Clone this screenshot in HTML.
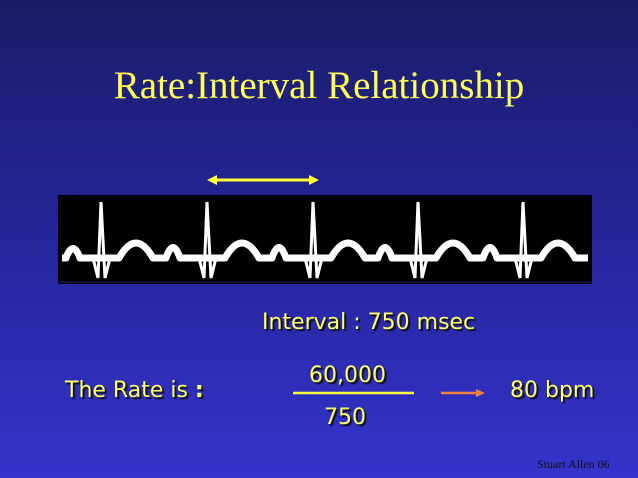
<!DOCTYPE html>
<html><head><meta charset="utf-8"><style>
html,body{margin:0;padding:0}
body{width:638px;height:478px;overflow:hidden;position:relative;background:linear-gradient(#1b1c68,#2626a0 55%,#3434cc);font-family:"DejaVu Sans","Liberation Sans",sans-serif}
.t{position:absolute;color:#ffff66;text-shadow:2px 2px 1px #111;white-space:nowrap;font-size:22px;line-height:1}
</style></head><body>
<div class="t" style="left:0;width:638px;text-align:center;top:66px;font-family:'Liberation Serif',serif;font-size:39px;text-shadow:none;color:#ffff55">Rate:Interval Relationship</div>
<svg width="638" height="478" style="position:absolute;left:0;top:0">
<g id="arrow">
<line x1="214" y1="180" x2="312" y2="180" stroke="#ffff33" stroke-width="3"/>
<polygon points="207,180 217,175 217,185" fill="#ffff33"/>
<polygon points="319,180 309,175 309,185" fill="#ffff33"/>
</g>
<rect x="58" y="195" width="534" height="89" fill="#000"/>
<line x1="58" y1="282" x2="592" y2="282" stroke="#22226a" stroke-width="1"/>
<path id="ecg" fill="none" stroke="#fff" stroke-width="7" stroke-linejoin="round"/>
<path id="spikes" fill="none" stroke="#fff" stroke-width="3" stroke-linejoin="miter"/>
<line x1="293" y1="393" x2="414" y2="393" stroke="#ffff44" stroke-width="2.5"/>
<g>
<line x1="441" y1="393" x2="478" y2="393" stroke="#f08040" stroke-width="2.5"/>
<polygon points="485,393 476,389 476,397" fill="#f08040"/>
</g>
</svg>
<div class="t" style="left:262px;top:312px">Interval : 750 msec</div>
<div class="t" style="left:65px;top:380px">The Rate is <b>:</b></div>
<div class="t" style="left:309px;top:365px">60,000</div>
<div class="t" style="left:324px;top:407px">750</div>
<div class="t" style="left:510px;top:380px">80 bpm</div>
<div class="t" style="left:537px;top:458px;font-family:'Liberation Serif',serif;font-size:12px;color:#111;text-shadow:none">Stuart Allen 06</div>
<script>
const beatTimes=[101,207,313,418,523];
const baseline=258, rTop=202, sBottom=278, tTop=242, pTop=247;
let d="M62 "+baseline+" L66 "+baseline+" Q73 "+(pTop-8)+" 80 "+baseline;
let s="";
beatTimes.forEach((r,i)=>{
  d+=" L"+(r-8)+" "+baseline+" L"+(r+8)+" "+baseline;
  s+=" M"+(r-8)+" "+baseline+" L"+(r-3)+" "+sBottom+" L"+r+" "+rTop+" L"+(r+4)+" "+sBottom+" L"+(r+9)+" "+baseline;
  const tc=r+35;
  d+=" L"+(tc-17)+" "+baseline+" Q"+tc+" "+(tTop-14)+" "+(tc+17)+" "+baseline;
  if(i<beatTimes.length-1){const pc=r+72;d+=" L"+(pc-7)+" "+baseline+" Q"+pc+" "+(pTop-10)+" "+(pc+7)+" "+baseline;}
});
d+=" L588 "+baseline;
document.getElementById('ecg').setAttribute('d',d);
document.getElementById('spikes').setAttribute('d',s);
</script>
</body></html>
